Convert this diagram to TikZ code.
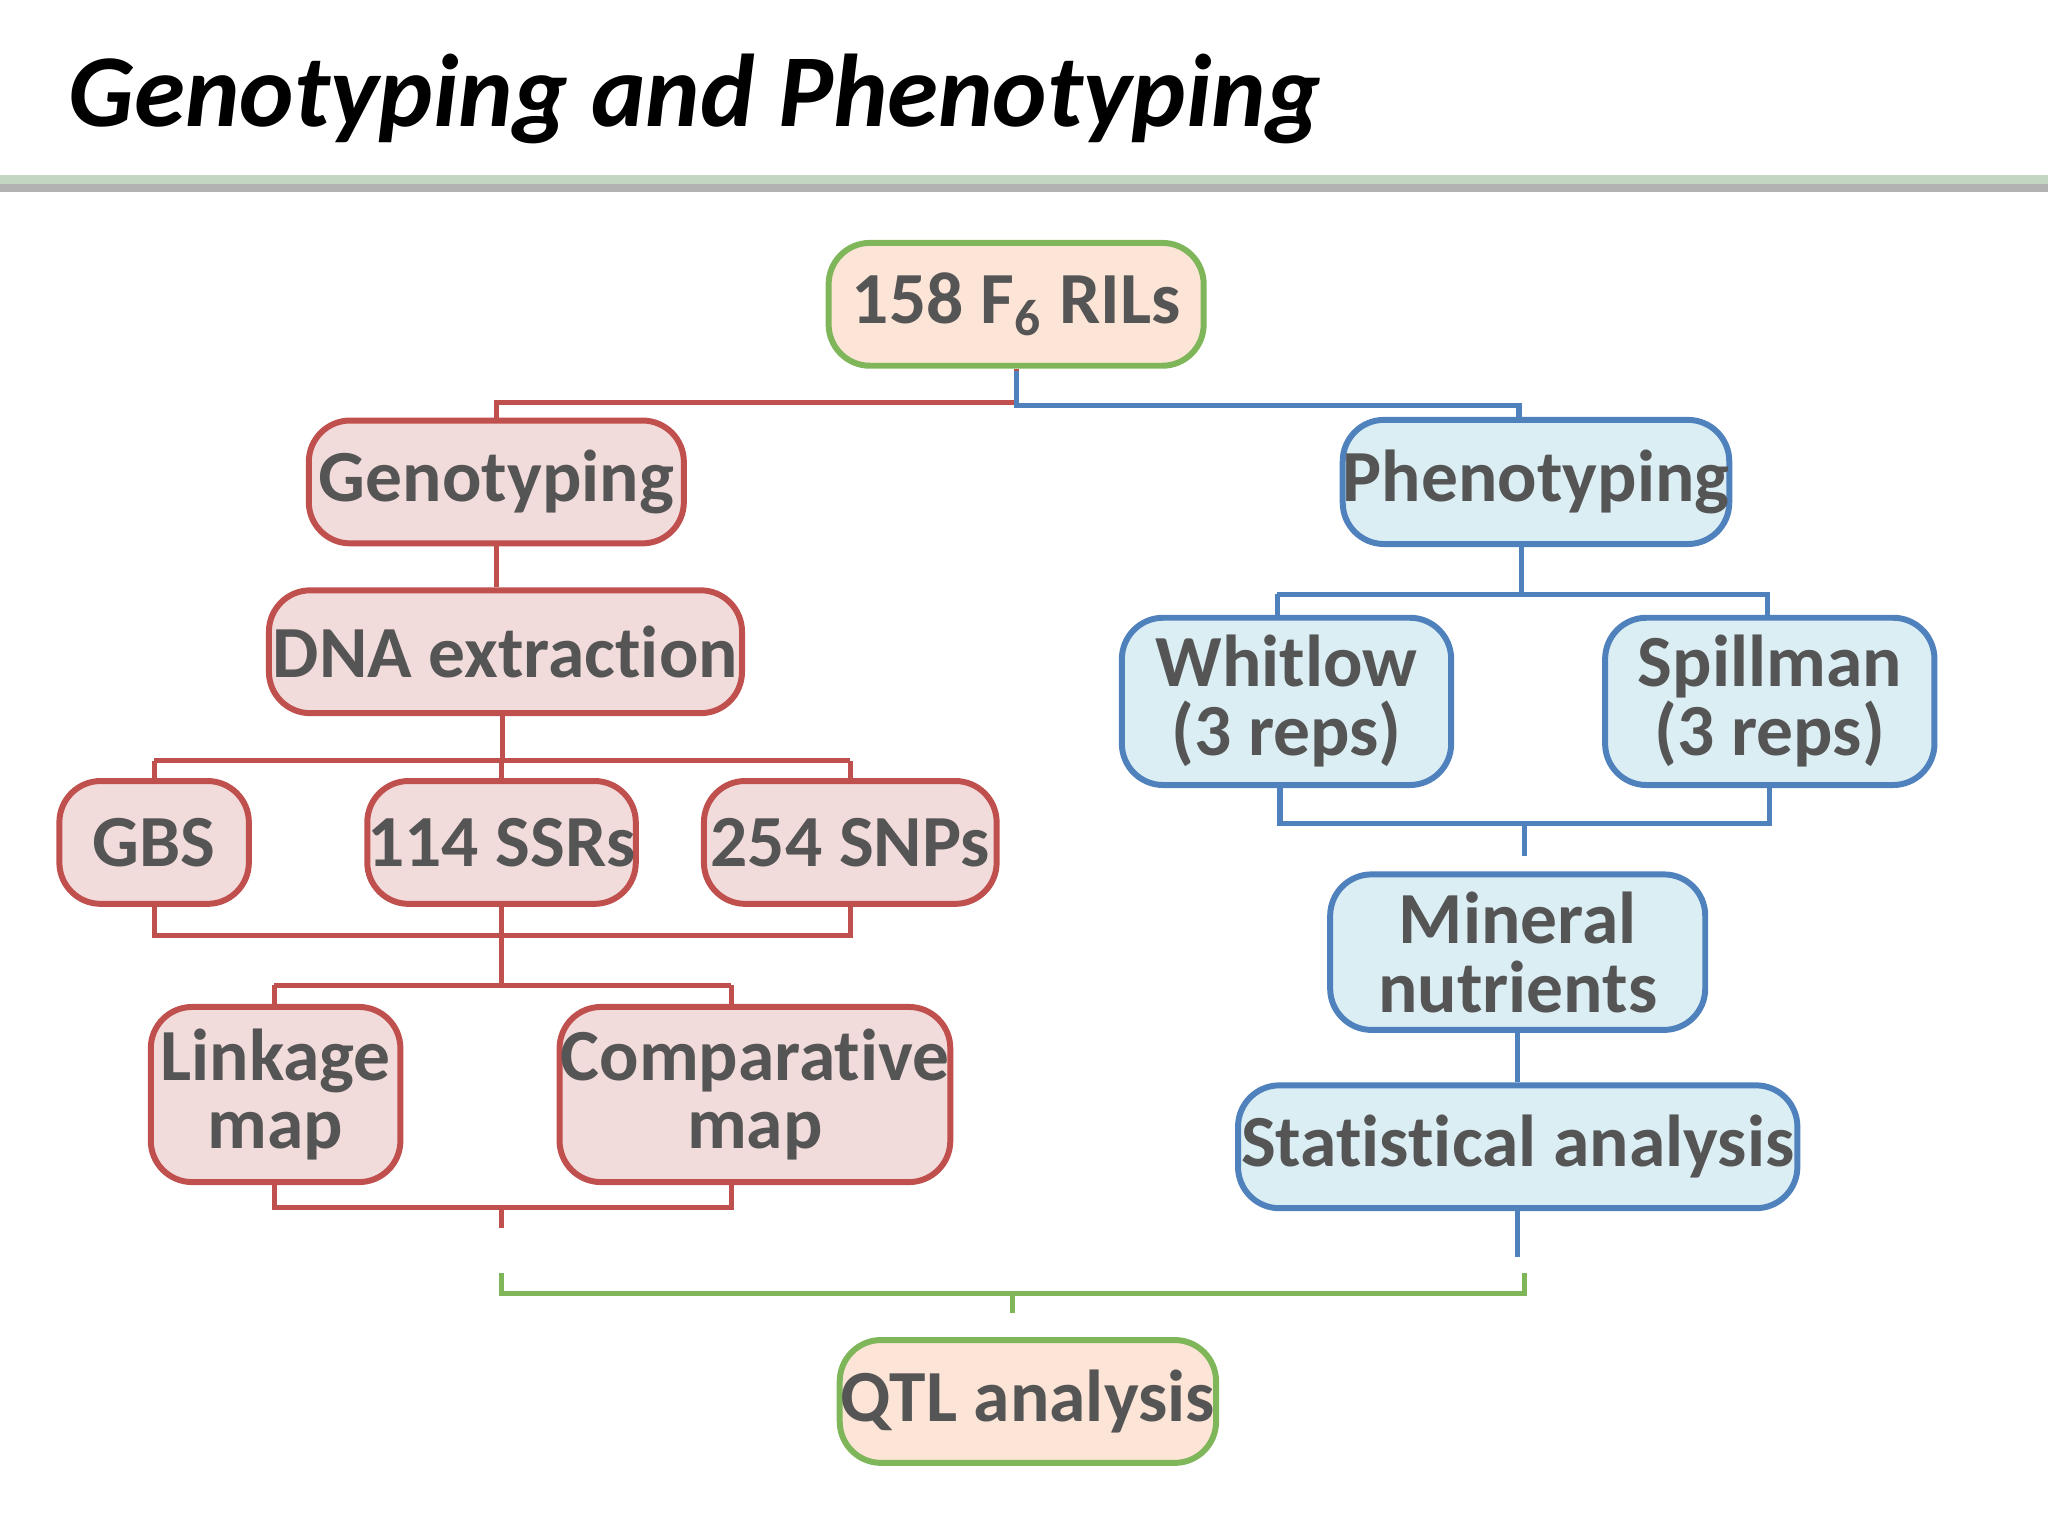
\documentclass[tikz,border=0pt]{standalone}
\usepackage{fontspec}
\setmainfont[Ligatures=NoCommon]{Carlito}
\definecolor{rd}{HTML}{C0504D}\definecolor{rdf}{HTML}{F2DCDB}
\definecolor{bl}{HTML}{4F81BD}\definecolor{blf}{HTML}{DBEEF4}
\definecolor{gn}{HTML}{7FB65A}\definecolor{pf}{HTML}{FCE4D6}
\definecolor{tx}{HTML}{555555}
\begin{document}
\begin{tikzpicture}[x=0.01cm,y=-0.01cm,
 bx/.style={rounded corners=9pt,line width=1.3pt,align=center,text=tx,font=\fontsize{16}{15}\selectfont\bfseries,inner sep=0pt},
 rb/.style={bx,draw=rd,fill=rdf},
 bb/.style={bx,draw=bl,fill=blf},
 gb/.style={bx,draw=gn,fill=pf},
 rl/.style={draw=rd,line width=1.1pt},
 bln/.style={draw=bl,line width=1.1pt},
 gl/.style={draw=gn,line width=1.1pt}]
\useasboundingbox (0,0) rectangle (1568,1176);
\node[anchor=base west,inner sep=0pt,font=\fontsize{22.5}{26}\selectfont\bfseries\itshape] (t) at (52,97) {Genotyping and Phenotyping};
\fill[gray!60] (0,139) rectangle (1568,147);
\fill[green!20!gray!40!white] (0,134) rectangle (1568,141);
\node[gb,minimum width=2.87cm,minimum height=0.94cm] (r) at (778,233) {158 F\textsubscript{6} RILs};
\node[rb,minimum width=2.87cm,minimum height=0.94cm] (g) at (380,369) {Genotyping};
\node[rb,minimum width=3.62cm,minimum height=0.94cm] (d) at (387,499) {DNA extraction};
\node[rb,minimum width=1.45cm,minimum height=0.94cm] (gbs) at (118,645) {GBS};
\node[rb,minimum width=2.05cm,minimum height=0.94cm] (ssr) at (384,645) {114 SSRs};
\node[rb,minimum width=2.24cm,minimum height=0.94cm] (snp) at (651,645) {254 SNPs};
\node[rb,minimum width=1.91cm,minimum height=1.34cm] (lm) at (211,838) {Linkage\\map};
\node[rb,minimum width=2.99cm,minimum height=1.34cm] (cm) at (578,838) {Comparative\\map};
\node[bb,minimum width=2.88cm,minimum height=0.95cm] (p) at (1176,369) {Phenotyping};
\node[bb,minimum width=2.52cm,minimum height=1.28cm] (w) at (985,537) {Whitlow\\(3 reps)};
\node[bb,minimum width=2.52cm,minimum height=1.28cm] (s) at (1355,537) {Spillman\\(3 reps)};
\node[bb,minimum width=2.87cm,minimum height=1.19cm] (m) at (1162,729) {Mineral\\nutrients};
\node[bb,minimum width=4.28cm,minimum height=0.94cm] (st) at (1162,878) {Statistical analysis};
\node[gb,minimum width=2.88cm,minimum height=0.94cm] (q) at (787,1073) {QTL analysis};
% top split
\draw[rl] (r.south) -- ++(0,26) -| (g.north);
\draw[bln] ([yshift=-0.02cm]r.south) -- ++(0,26) -| ([xshift=-0.13cm]p.north);
\draw[rl] (g.south) -- (g.south |- d.north);
\draw[rl] ([xshift=-0.02cm]d.south) -- ++(0,34) coordinate (c1);
\draw[rl] (c1 -| gbs.north) -- (c1 -| snp.north);
\draw[rl] (c1 -| gbs.north) -- (gbs.north) (c1 -| ssr.north) -- (ssr.north) (c1 -| snp.north) -- (snp.north);
\draw[rl] (gbs.south) -- ++(0,22) coordinate (c2) -| (snp.south);
\draw[rl] (ssr.south) -- (ssr.south |- c2);
\draw[rl] (c2 -| ssr.south) -- ++(0,38) coordinate (c3);
\draw[rl] ([xshift=-0.01cm]lm.north |- c3) -- ([xshift=-0.18cm]cm.north |- c3);
\draw[rl] ([xshift=-0.01cm]lm.north |- c3) -- ([xshift=-0.01cm]lm.north);
\draw[rl] ([xshift=-0.18cm]cm.north |- c3) -- ([xshift=-0.18cm]cm.north);
\draw[rl] ([xshift=-0.01cm]lm.south) -- ++(0,17) coordinate (c4) -| ([xshift=-0.18cm]cm.south);
\draw[rl] (c4 -| ssr.south) -- ++(0,16) coordinate (c5);
% phenotyping
\draw[bln] ([xshift=-0.11cm]p.south) -- ++(0,36) coordinate (b1);
\draw[bln] ([xshift=-0.07cm]w.north |- b1) -- ([xshift=-0.07cm]w.north);
\draw[bln] ([xshift=-0.07cm]w.north |- b1) -- ([xshift=-0.02cm]s.north |- b1) -- ([xshift=-0.02cm]s.north);
\draw[bln] ([xshift=-0.05cm]w.south) -- ++(0,27) coordinate (b2) -| (s.south);
\draw[bln] ([xshift=0.05cm]m.north |- b2) -- ++(0,25);
\draw[bln] (m.south) -- (st.north);
\draw[bln] (st.south) -- ++(0,35) coordinate (b3);
% green bracket
\draw[gl] (c5 |- 0,975) -- (c5 |- 0,990) coordinate (g1) -- ([xshift=0.05cm]b3 |- g1) -- ([xshift=0.05cm]b3 |- 0,975);
\draw[gl] ([xshift=-0.12cm]q.north |- g1) -- ++(0,15);
\end{tikzpicture}
\end{document}
